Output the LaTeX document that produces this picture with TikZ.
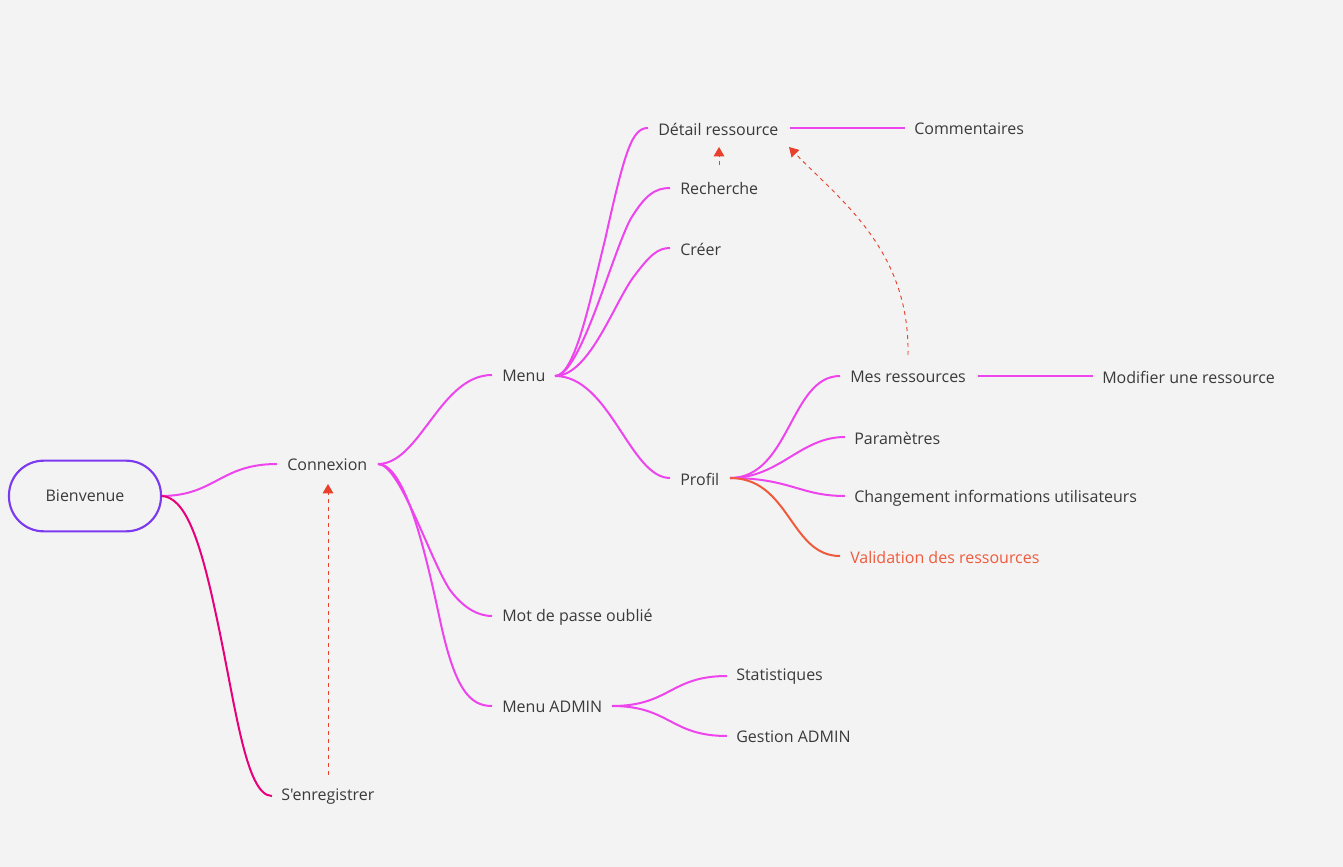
\documentclass[tikz,border=0pt]{standalone}
\usepackage{fontspec}
\setmainfont{Open Sans}[Ligatures=TeXOff]
\usetikzlibrary{arrows.meta}
\definecolor{bg}{HTML}{F3F3F3}
\definecolor{mag}{HTML}{EE44EE}
\definecolor{deep}{HTML}{E8007A}
\definecolor{purp}{HTML}{7B3AF0}
\definecolor{ored}{HTML}{F05A3C}
\definecolor{txt}{HTML}{3A3A3A}
\definecolor{dred}{HTML}{E8402C}
\begin{document}
\begin{tikzpicture}[x=0.75pt,y=-0.75pt,
  lbl/.style={anchor=west,inner sep=0pt,font=\fontsize{12pt}{14pt}\selectfont,text=txt},
  br/.style={mag,line width=1.5pt},
  dsh/.style={dred,dash pattern=on 3pt off 3pt,line width=0.7pt,-{Triangle[length=7pt,width=8pt]}}]
\fill[bg] (0,0) rectangle (1343,867);
\useasboundingbox (0,0) rectangle (1343,867);
\node[draw=purp,line width=1.6pt,rounded corners=26pt,minimum width=114pt,minimum height=53pt,font=\fontsize{12pt}{14pt}\selectfont,text=txt] (bien) at (85,496) {Bienvenue};
\coordinate (bR) at (161,496);
\node[lbl] (con) at (287,465) {Connexion};
\coordinate (conL) at (277,464); \coordinate (conR) at (378,464);
\node[lbl] (enr) at (281,797) {S'enregistrer};
\coordinate (enrL) at (272,796);
\node[lbl] (menu) at (502,376) {Menu};
\coordinate (menuL) at (492,375); \coordinate (menuR) at (555,376);
\node[lbl] (mdp) at (502,617) {Mot de passe oublié};
\coordinate (mdpL) at (492,616);
\node[lbl] (adm) at (502,707) {Menu ADMIN};
\coordinate (admL) at (492,706); \coordinate (admR) at (612,706);
\node[lbl] (det) at (658,129) {Détail ressource};
\coordinate (detL) at (648,128); \coordinate (detR) at (790,128);
\node[lbl] (com) at (914,129) {Commentaires};
\coordinate (comL) at (905,128);
\node[lbl] (rec) at (680,189) {Recherche};
\coordinate (recL) at (670,188);
\node[lbl] (cre) at (680,249) {Créer};
\coordinate (creL) at (670,248);
\node[lbl] (pro) at (680,479) {Profil};
\coordinate (proL) at (670,478); \coordinate (proR) at (730,478);
\node[lbl] (mes) at (850,377) {Mes ressources};
\coordinate (mesL) at (840,376); \coordinate (mesR) at (978,376);
\node[lbl] (mod) at (1102,377) {Modifier une ressource};
\coordinate (modL) at (1093,376);
\node[lbl] (par) at (854,438) {Paramètres};
\coordinate (parL) at (845,437);
\node[lbl] (chg) at (854,498) {Changement informations utilisateurs};
\coordinate (chgL) at (845,496);
\node[lbl,text=ored] (val) at (850,557) {Validation des ressources};
\coordinate (valL) at (840,556);
\node[lbl] (sta) at (736,677) {Statistiques};
\coordinate (staL) at (727,676);
\node[lbl] (ges) at (736,737) {Gestion ADMIN};
\coordinate (gesL) at (727,736);
% branches
\draw[br] (bR) .. controls (215,496) and (220,464) .. (conL);
\draw[deep,line width=1.5pt] (bR) .. controls (185,496) and (200,540) .. (215,610) .. controls (235,700) and (245,796) .. (enrL);
\draw[br] (conR) .. controls (420,464) and (440,375) .. (menuL);
\draw[br] (conR) .. controls (400,464) and (430,560) .. (450,590) .. controls (465,610) and (480,616) .. (mdpL);
\draw[br] (conR) .. controls (405,464) and (425,550) .. (440,620) .. controls (455,690) and (470,706) .. (admL);
\draw[br] (menuR) .. controls (575,376) and (590,300) .. (605,240) .. controls (625,150) and (632,128) .. (detL);
\draw[br] (menuR) .. controls (580,376) and (610,260) .. (630,220) .. controls (645,195) and (655,188) .. (recL);
\draw[br] (menuR) .. controls (590,376) and (615,300) .. (635,275) .. controls (650,255) and (658,248) .. (creL);
\draw[br] (menuR) .. controls (610,376) and (630,478) .. (proL);
\draw[br] (detR) -- (comL);
\draw[br] (proR) .. controls (790,478) and (790,376) .. (mesL);
\draw[br] (proR) .. controls (780,478) and (800,437) .. (parL);
\draw[br] (proR) .. controls (790,478) and (800,496) .. (chgL);
\draw[ored,line width=1.5pt] (proR) .. controls (790,478) and (790,556) .. (valL);
\draw[br] (mesR) -- (modL);
\draw[br] (admR) .. controls (670,706) and (670,676) .. (staL);
\draw[br] (admR) .. controls (670,706) and (670,736) .. (gesL);
% dashed
\coordinate (d1a) at (328,775); \coordinate (d1b) at (328,484);
\draw[dsh] (d1a) -- (d1b);
\coordinate (d2a) at (719,165); \coordinate (d2b) at (719,147);
\draw[dsh] (d2a) -- (d2b);
\coordinate (d3a) at (908,355); \coordinate (d3b) at (789,147);
\draw[dsh] (d3a) .. controls (910,250) and (840,200) .. (d3b);
\end{tikzpicture}
\end{document}
